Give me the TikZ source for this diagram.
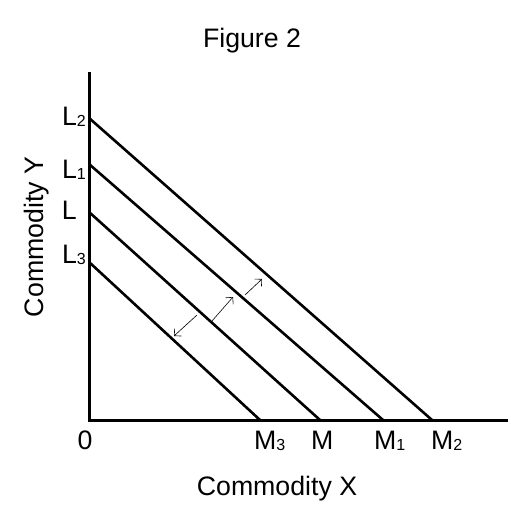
\documentclass[tikz,border=0pt]{standalone}
\usepackage{fontspec}
\setmainfont{Liberation Sans}
\usetikzlibrary{arrows.meta}
\newcommand{\lowidx}[1]{\raisebox{-1.5pt}{\fontsize{16}{18}\selectfont #1}}

\begin{document}
\begin{tikzpicture}[
    x=1pt, y=-1pt,
    axisline/.style={line width=3pt},
    budget/.style={line width=2.6pt},
    shiftarrow/.style={line width=0.6pt, -{Straight Barb[length=5pt,width=10pt]}},
    every node/.style={font=\fontsize{26.7}{32}\selectfont, inner sep=0pt}
]
\useasboundingbox (0,0) rectangle (528,519);

% Title
\node (title) [anchor=base] at (252,48) {Figure 2};

% Axes
\coordinate (ytop) at (89,72);
\coordinate (O) at (89,420);
\coordinate (xend) at (508,420);
\draw[axisline] (ytop) -- (O) -- (xend);
\node (zero) [anchor=base] at (85,449) {0};
\node (xlab) [anchor=base] at (277,495) {Commodity X};
\node (ylab) [anchor=base, rotate=90] at (43,237) {Commodity Y};

% Intercepts
\coordinate (L2) at (89,118);
\coordinate (L1) at (89,164);
\coordinate (L)  at (89,212);
\coordinate (L3) at (89,262);
\coordinate (M3) at (260,420);
\coordinate (M)  at (320,420);
\coordinate (M1) at (383,420);
\coordinate (M2) at (432,420);

\draw[budget] (L2) -- (M2);
\draw[budget] (L1) -- (M1);
\draw[budget] (L)  -- (M);
\draw[budget] (L3) -- (M3);

\node (labL2) [anchor=base east] at (86,125) {L\lowidx{2}};
\node (labL1) [anchor=base east] at (86,178) {L\lowidx{1}};
\node (labL)  [anchor=base east] at (77,219) {L};
\node (labL3) [anchor=base east] at (86,263) {L\lowidx{3}};

\node (labM3) [anchor=base west] at (254,449) {M\lowidx{3}};
\node (labM)  [anchor=base west] at (311,449) {M};
\node (labM1) [anchor=base west] at (374,449) {M\lowidx{1}};
\node (labM2) [anchor=base west] at (431,449) {M\lowidx{2}};

% Shifts
\coordinate (s1) at (197,315);
\coordinate (e1) at (174,336);
\coordinate (s2) at (212,321);
\coordinate (e2) at (233,297);
\coordinate (s3) at (245,295);
\coordinate (e3) at (262,279);
\draw[shiftarrow] (s1) -- (e1);
\draw[shiftarrow] (s2) -- (e2);
\draw[shiftarrow] (s3) -- (e3);
\end{tikzpicture}
\end{document}
